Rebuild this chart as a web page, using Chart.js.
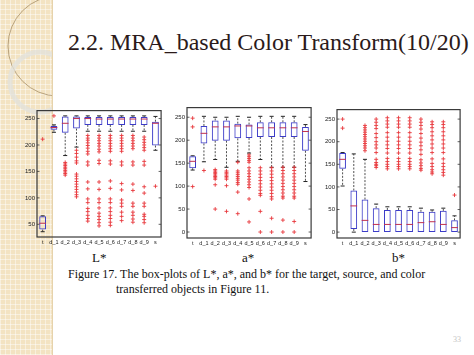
<!DOCTYPE html>
<html>
<head>
<meta charset="utf-8">
<script src="https://cdn.jsdelivr.net/npm/chart.js@4/dist/chart.umd.min.js"></script>
<style>
  body { margin: 0; width: 474px; height: 355px; background: #fff; position: relative; overflow: hidden;
         font-family: "Liberation Serif", "Times New Roman", serif; }
  #strip { position: absolute; left: 0; top: 0; width: 52px; height: 355px; overflow: hidden;
           background-color: #f3e3c2;
           background-image:
             repeating-linear-gradient(0deg, rgba(255,255,255,0.45) 0 1px, transparent 1px 5px),
             repeating-linear-gradient(90deg, rgba(255,255,255,0.45) 0 1px, transparent 1px 5px);
           border-right: 1px solid #e6d3ac; }
  canvas { position: absolute; }
  .txt { position: absolute; white-space: nowrap; color: #111; font-family: "Liberation Serif", "Times New Roman", serif; }
</style>
</head>
<body>
<div id="strip">
  <svg width="52" height="355">
    <circle cx="58" cy="46" r="50" fill="none" stroke="#a89068" stroke-width="0.8"/>
    <circle cx="40" cy="82" r="30" fill="none" stroke="rgba(225,225,220,0.75)" stroke-width="5"/>
  </svg>
</div>
<div class="txt" style="left:68px;top:30px;font-size:24px;line-height:24px;color:#2b1a1a">2.2. MRA_based Color Transform(10/20)</div>

<canvas id="chartL" width="145" height="142" style="left:21px;top:105px"></canvas>
<canvas id="chartA" width="145" height="146" style="left:171px;top:102px"></canvas>
<canvas id="chartB" width="144" height="144" style="left:321px;top:104px"></canvas>

<div class="txt" style="left:92px;top:250px;font-size:13px">L*</div>
<div class="txt" style="left:242px;top:250px;font-size:13px">a*</div>
<div class="txt" style="left:392px;top:250px;font-size:13px">b*</div>
<div class="txt" style="left:68px;top:267px;font-size:12px">Figure 17. The box-plots of L*, a*, and b* for the target, source, and color</div>
<div class="txt" style="left:116px;top:282px;font-size:12px">transferred objects in Figure 11.</div>
<div class="txt" style="left:453px;top:335px;font-size:8px;color:#c4c4c4">33</div>

<script>
// Categories on every x axis: target, the nine transfer levels, source.
const CATS = ['t', 'd_1', 'd_2', 'd_3', 'd_4', 'd_5', 'd_6', 'd_7', 'd_8', 'd_9', 's'];

// L* panel
const L_MIN = [36, 224, 180, 196, 226, 226, 226, 226, 226, 226, 190];
const L_Q1  = [40, 229, 223, 231, 238, 238, 238, 238, 238, 238, 199];
const L_MED = [52, 233, 241, 250, 250, 249, 249, 249, 249, 249, 241];
const L_Q3  = [65, 236, 254, 254, 253, 253, 253, 253, 253, 253, 244];
const L_MAX = [66, 238, 255, 255, 255, 255, 255, 255, 255, 255, 254];
const L_OUT = [
  [211],
  [255],
  [167, 164, 161, 158, 155, 152, 149, 146, 143],
  [190, 184, 177, 170, 166, 145, 141, 136, 131, 126, 121, 116, 111, 106, 102],
  [218, 213, 209, 204, 199, 194, 188, 183, 168, 162, 130, 117, 98, 91, 80, 74, 67, 61, 56],
  [218, 213, 208, 203, 198, 192, 187, 171, 165, 130, 116, 98, 91, 81, 71, 65, 59, 53, 47],
  [218, 213, 208, 203, 198, 193, 188, 170, 164, 132, 118, 98, 91, 81, 74, 67, 61, 54, 48],
  [218, 213, 208, 203, 198, 193, 188, 168, 162, 127, 115, 96, 90, 84, 73, 65, 57],
  [218, 213, 208, 203, 198, 193, 168, 162, 126, 114, 90, 84, 73, 67, 60, 54],
  [215, 210, 205, 200, 195, 190, 169, 162, 121, 109, 90, 84, 69, 65, 59, 53],
  [122]
];
const L_TICKS = [50, 100, 150, 200, 250];

// a* panel
const A_MIN = [135, 153, 158, 141, 154, 172, 158, 141, 141, 141, 110];
const A_Q1  = [139, 193, 199, 199, 204, 205, 207, 207, 207, 207, 177];
const A_MED = [154, 215, 229, 229, 231, 231, 227, 227, 227, 227, 219];
const A_Q3  = [165, 231, 243, 243, 236, 234, 239, 239, 239, 239, 229];
const A_MAX = [166, 252, 250, 250, 252, 250, 252, 252, 252, 252, 234];
const A_OUT = [
  [248, 229, 99],
  [134],
  [136, 133, 130, 127, 124, 121, 118, 115, 103, 50],
  [133, 130, 127, 124, 121, 118, 115, 101, 45],
  [152, 133, 129, 125, 121, 117, 113, 108, 104, 87, 40],
  [168, 164, 160, 156, 152, 140, 133, 127, 121, 115, 109, 103, 97, 72, 22],
  [140, 133, 126, 119, 112, 105, 98, 91, 84, 80, 45, 0],
  [140, 133, 126, 119, 112, 105, 98, 91, 84, 77, 72, 30, 0],
  [141, 134, 127, 120, 113, 106, 99, 92, 85, 78, 74, 26, 0],
  [141, 134, 127, 120, 113, 106, 99, 92, 85, 78, 74, 23, 0],
  []
];
const A_TICKS = [0, 50, 100, 150, 200, 250];

// b* panel
const B_MIN = [102, 0, 0, 0, 0, 0, 0, 0, 0, 0, 0];
const B_Q1  = [140, 7, 0, 0, 0, 0, 0, 0, 0, 0, 0];
const B_MED = [161, 58, 26, 17, 17, 17, 17, 21, 23, 17, 10];
const B_Q3  = [175, 92, 72, 53, 49, 49, 49, 45, 45, 47, 26];
const B_MAX = [176, 173, 161, 62, 56, 56, 56, 53, 49, 53, 36];
const B_OUT = [
  [250, 230],
  [],
  [236, 231, 226, 221, 216, 211, 206, 201, 196, 191, 186, 180],
  [250, 243, 236, 229, 218, 209, 200, 193, 186, 176, 161, 154, 150, 147, 143],
  [253, 246, 239, 232, 220, 210, 201, 193, 185, 175, 163, 156, 150, 145, 140],
  [253, 246, 239, 232, 220, 210, 201, 193, 185, 175, 163, 156, 150, 145, 140],
  [253, 246, 239, 232, 220, 210, 201, 193, 185, 175, 163, 156, 150, 145, 140],
  [250, 243, 236, 228, 218, 208, 199, 191, 182, 172, 160, 153, 147, 141, 137],
  [244, 238, 231, 222, 213, 204, 195, 186, 176, 162, 152, 145, 138, 133, 129],
  [244, 238, 231, 222, 213, 204, 195, 186, 176, 162, 152, 145, 138, 132, 126],
  [82]
];
const B_TICKS = [0, 50, 100, 150, 200, 250];

// Whiskers, caps, medians and the axes box, placed with the chart's own scales.
function boxPlugin(mins, meds, maxs, q1s, q3s, ticks) {
  return {
    id: 'boxExtras',
    beforeDatasetsDraw(chart) {
      const {ctx, scales: {y}} = chart;
      ctx.save();
      chart.getDatasetMeta(0).data.forEach((bar, i) => {
        const cx = bar.x, cw = bar.width * 0.3;
        ctx.strokeStyle = '#222';
        ctx.lineWidth = 0.8;
        ctx.setLineDash([2, 1.5]);
        ctx.beginPath();
        ctx.moveTo(cx, y.getPixelForValue(q3s[i]));
        ctx.lineTo(cx, y.getPixelForValue(maxs[i]));
        ctx.moveTo(cx, y.getPixelForValue(q1s[i]));
        ctx.lineTo(cx, y.getPixelForValue(mins[i]));
        ctx.stroke();
        ctx.setLineDash([]);
        ctx.lineWidth = 1;
        ctx.beginPath();
        if (maxs[i] > q3s[i]) {
          ctx.moveTo(cx - cw, y.getPixelForValue(maxs[i]));
          ctx.lineTo(cx + cw, y.getPixelForValue(maxs[i]));
        }
        if (mins[i] < q1s[i]) {
          ctx.moveTo(cx - cw, y.getPixelForValue(mins[i]));
          ctx.lineTo(cx + cw, y.getPixelForValue(mins[i]));
        }
        ctx.stroke();
      });
      ctx.restore();
    },
    afterDatasetsDraw(chart) {
      const {ctx, scales: {y}} = chart;
      ctx.save();
      ctx.strokeStyle = '#c03050';
      ctx.lineWidth = 1;
      chart.getDatasetMeta(0).data.forEach((bar, i) => {
        const py = y.getPixelForValue(meds[i]);
        ctx.beginPath();
        ctx.moveTo(bar.x - bar.width / 2, py);
        ctx.lineTo(bar.x + bar.width / 2, py);
        ctx.stroke();
      });
      ctx.restore();
    },
    afterDraw(chart) {
      const {ctx, chartArea: a, scales: {y}} = chart;
      ctx.save();
      ctx.strokeStyle = '#3a3a3a';
      ctx.lineWidth = 1.2;
      ctx.strokeRect(a.left, a.top, a.right - a.left, a.bottom - a.top);
      ctx.lineWidth = 0.8;
      ctx.beginPath();
      ticks.forEach(v => {
        const py = y.getPixelForValue(v);
        ctx.moveTo(a.left, py); ctx.lineTo(a.left + 2.5, py);
        ctx.moveTo(a.right, py); ctx.lineTo(a.right - 2.5, py);
      });
      ctx.stroke();
      ctx.restore();
    }
  };
}

function makePanel(id, mins, q1s, meds, q3s, maxs, outs, ticks, yMin, yMax) {
  const outPoints = [];
  outs.forEach((vals, i) => vals.forEach(v => outPoints.push({x: CATS[i], y: v})));

  new Chart(document.getElementById(id), {
    type: 'bar',
    data: {
      labels: CATS,
      datasets: [
        {
          // Boxes from first to third quartile.
          data: q1s.map((q, i) => [q, q3s[i]]),
          backgroundColor: 'rgba(0,0,0,0)',
          borderColor: '#3c3cc8',
          borderWidth: 1,
          borderSkipped: false,
          barPercentage: 0.6,
          categoryPercentage: 1
        },
        {
          // Outliers as red plus signs.
          type: 'line',
          data: outPoints,
          showLine: false,
          pointStyle: 'cross',
          pointRadius: 2,
          pointBorderColor: '#e8383c',
          pointBorderWidth: 0.9
        }
      ]
    },
    options: {
      responsive: false,
      animation: false,
      layout: {padding: {top: 3, right: 3, left: 0, bottom: 0}},
      plugins: {legend: {display: false}, tooltip: {enabled: false}},
      scales: {
        x: {
          grid: {display: false, drawTicks: false, tickLength: 0},
          border: {display: false},
          afterFit: (s) => { s.height = 10; },
          ticks: {
            autoSkip: false, maxRotation: 0, minRotation: 0, padding: 2,
            color: '#222', font: {size: 5.5, family: 'Liberation Sans'}
          }
        },
        y: {
          min: yMin,
          max: yMax,
          grid: {display: false, drawTicks: false, tickLength: 0},
          border: {display: false},
          afterFit: (s) => { s.width = 16; },
          afterBuildTicks: (s) => { s.ticks = ticks.map(v => ({value: v})); },
          ticks: {padding: 2, color: '#222', font: {size: 6, family: 'Liberation Sans'}}
        }
      }
    },
    plugins: [boxPlugin(mins, meds, maxs, q1s, q3s, ticks)]
  });
}

makePanel('chartL', L_MIN, L_Q1, L_MED, L_Q3, L_MAX, L_OUT, L_TICKS, 26, 265);
makePanel('chartA', A_MIN, A_Q1, A_MED, A_Q3, A_MAX, A_OUT, A_TICKS, -13, 271);
makePanel('chartB', B_MIN, B_Q1, B_MED, B_Q3, B_MAX, B_OUT, B_TICKS, -13, 271);
</script>
</body>
</html>
